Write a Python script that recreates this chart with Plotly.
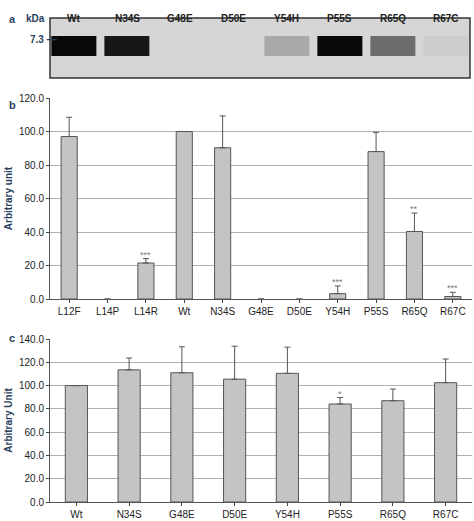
import plotly.graph_objects as go

blot_lanes = ["Wt", "N34S", "G48E", "D50E", "Y54H", "P55S", "R65Q", "R67C"]
blot_intensity = [1.0, 0.92, 0.0, 0.0, 0.15, 1.0, 0.45, 0.03]

b_cats = ["L12F", "L14P", "L14R", "Wt", "N34S", "G48E", "D50E", "Y54H", "P55S", "R65Q", "R67C"]
b_vals = [97, 0, 21.5, 100, 90.3, 0, 0, 3.2, 88, 40.3, 1.5]
b_err = [11.5, 0, 2.6, 0, 19, 0, 0, 4.6, 11.5, 11, 2.5]
b_sig = ["", "", "***", "", "", "", "", "***", "", "**", "***"]

c_cats = ["Wt", "N34S", "G48E", "D50E", "Y54H", "P55S", "R65Q", "R67C"]
c_vals = [100, 113.5, 111, 105.5, 110.5, 84.2, 87, 102.5]
c_err = [0, 10.2, 22.3, 28.3, 22.5, 5.5, 10, 20.3]
c_sig = ["", "", "", "", "", "*", "", ""]

FONT = "Liberation Sans, Arial, sans-serif"
BG = "#d6d6d6"
fig = go.Figure()

fig.add_trace(go.Heatmap(z=[blot_intensity], x=blot_lanes, y=["band"],
                         colorscale=[[0, BG], [0.2, "#9a9a9a"], [1, "#080808"]],
                         zmin=0, zmax=1, showscale=False, xgap=8,
                         xaxis="x3", yaxis="y3", hoverinfo="skip"))

def bars(cats, vals, err, xa, ya):
    fig.add_trace(go.Bar(x=cats, y=vals, xaxis=xa, yaxis=ya, width=0.42,
                         marker=dict(color="#c4c4c4", line=dict(color="#555555",
                                     width=[0 if v == 0 else 1 for v in vals])),
                         error_y=dict(type="data", array=err, arrayminus=[0]*len(err), symmetric=False,
                                      color="#555555", thickness=1, width=3),
                         showlegend=False))

bars(b_cats, b_vals, b_err, "x", "y")
bars(c_cats, c_vals, c_err, "x2", "y2")

ann = []
for c, v, e, s in zip(b_cats, b_vals, b_err, b_sig):
    if s:
        ann.append(dict(x=c, y=v + e, xref="x", yref="y", text=s, showarrow=False, yanchor="bottom",
                        yshift=-3, font=dict(size=9, color="#777777", family=FONT)))
for c, v, e, s in zip(c_cats, c_vals, c_err, c_sig):
    if s:
        ann.append(dict(x=c, y=v + e, xref="x2", yref="y2", text=s, showarrow=False, yanchor="bottom",
                        yshift=-3, font=dict(size=9, color="#777777", family=FONT)))
for c in blot_lanes:
    ann.append(dict(x=c, y=1 - 11/521, xref="x3", yref="paper", text="<b>%s</b>" % c, showarrow=False,
                    font=dict(size=10, color="#222", family=FONT)))
ann += [
    dict(x=7/474, y=1 - 11/521, xref="paper", yref="paper", text="<b>a</b>", showarrow=False, font=dict(size=11, family=FONT)),
    dict(x=24/474, y=1 - 11/521, xref="paper", yref="paper", text="<b>kDa</b>", showarrow=False, font=dict(size=10, family=FONT)),
    dict(x=28/474, y=1 - 32/521, xref="paper", yref="paper", text="<b>7.3 —</b>", showarrow=False, font=dict(size=10, family=FONT)),
    dict(x=7/474, y=1 - 97/521, xref="paper", yref="paper", text="<b>b</b>", showarrow=False, font=dict(size=11, family=FONT)),
    dict(x=7/474, y=1 - 338/521, xref="paper", yref="paper", text="<b>c</b>", showarrow=False, font=dict(size=11, family=FONT)),
]

xd = [50/474, 472/474]
common_y = dict(showgrid=True, gridcolor="#b0b0b0", gridwidth=1, showline=True, linecolor="#555",
                ticks="outside", ticklen=3, tickformat=".1f", zeroline=False, automargin=False,
                tickfont=dict(size=10, family=FONT, color="#222"))
common_x = dict(showline=True, linecolor="#555", ticks="outside", ticklen=3, automargin=False,
                tickfont=dict(size=10, family=FONT, color="#222"))

fig.update_layout(
    width=474, height=521, margin=dict(l=0, r=0, t=0, b=0),
    paper_bgcolor="white", plot_bgcolor="white",
    annotations=ann,
    xaxis=dict(domain=xd, anchor="y", **common_x),
    yaxis=dict(domain=[1 - 299/521, 1 - 98/521], range=[0, 120], dtick=20, anchor="x",
               title=dict(text="<b>Arbitrary unit</b>", font=dict(size=10, family=FONT), standoff=4), **common_y),
    xaxis2=dict(domain=xd, anchor="y2", **common_x),
    yaxis2=dict(domain=[1 - 502/521, 1 - 339/521], range=[0, 140], dtick=20, anchor="x2",
                title=dict(text="<b>Arbitrary Unit</b>", font=dict(size=10, family=FONT), standoff=4), **common_y),
    xaxis3=dict(domain=[50/474, 470/474], anchor="y3", range=[-0.45, 7.45], visible=False),
    yaxis3=dict(domain=[1 - 56/521, 1 - 36/521], anchor="x3", visible=False),
    shapes=[dict(type="rect", xref="paper", yref="paper", x0=50/474, x1=470/474, y0=1 - 78/521, y1=1 - 18/521,
                 line=dict(color="#333", width=1.5), fillcolor=BG, layer="below")],
)
fig.write_html("out.html", config={"displayModeBar": False})
with open("out.html", encoding="utf-8") as f:
    html = f.read()
html = html.replace("<body>", '<body style="margin:0;overflow:hidden">', 1)
with open("out.html", "w", encoding="utf-8") as f:
    f.write(html)
